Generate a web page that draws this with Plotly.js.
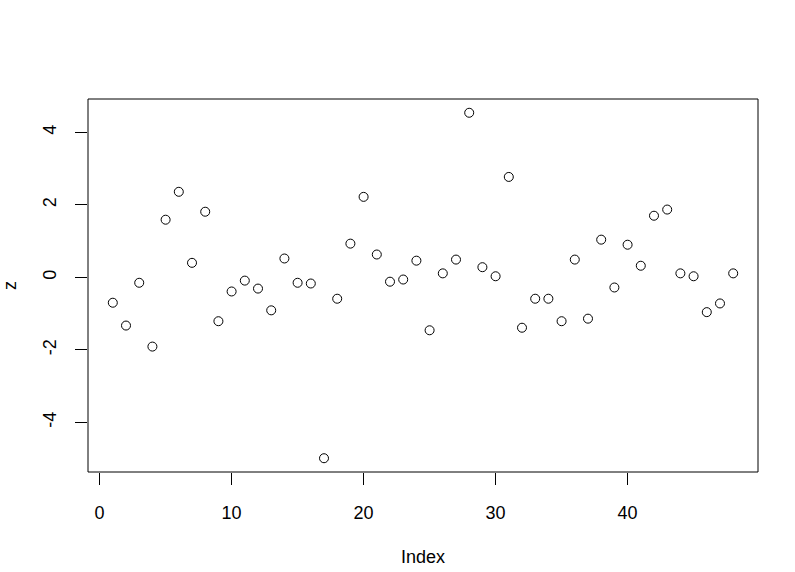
<!DOCTYPE html>
<html>
<head>
<meta charset="utf-8">
<script src="https://cdn.plot.ly/plotly-3.0.1.min.js"></script>
<style>html,body{margin:0;padding:0;background:#fff;}#chart{width:795px;height:572px;}</style>
</head>
<body>
<div id="chart"></div>
<script>
// Index values
const index = [1,2,3,4,5,6,7,8,9,10,11,12,13,14,15,16,17,18,19,20,21,22,23,24,
               25,26,27,28,29,30,31,32,33,34,35,36,37,38,39,40,41,42,43,44,45,46,47,48];
// z values
const z = [-0.70,-1.33,-0.15,-1.91,1.59,2.36,0.40,1.81,-1.21,-0.39,-0.09,-0.31,-0.91,0.52,-0.15,-0.17,
           -4.99,-0.59,0.93,2.22,0.63,-0.12,-0.06,0.46,-1.46,0.11,0.49,4.54,0.28,0.03,2.77,-1.39,
           -0.59,-0.59,-1.21,0.49,-1.14,1.04,-0.28,0.90,0.32,1.70,1.87,0.11,0.03,-0.96,-0.72,0.11];
const xTicks = [0,10,20,30,40];
const yTicks = [-4,-2,0,2,4];
const xLabel = "Index";
const yLabel = "z";

const font = {family: "Liberation Sans, Arial, sans-serif", size: 18, color: "#000"};

const trace = {
  x: index, y: z, type: "scatter", mode: "markers",
  marker: {symbol: "circle-open", size: 9, color: "#000", line: {width: 1, color: "#000"}},
  hoverinfo: "x+y"
};

const layout = {
  width: 795, height: 572,
  margin: {l: 88, r: 37, t: 99, b: 100},
  paper_bgcolor: "#fff", plot_bgcolor: "#fff",
  font: font,
  showlegend: false,
  xaxis: {
    range: [-0.88, 49.88], tickvals: xTicks, ticktext: xTicks.map(String),
    ticks: "outside", ticklen: 12, tickwidth: 1, tickcolor: "#000",
    showgrid: false, zeroline: false, showline: false,
    ticklabelstandoff: 12,
    tickfont: font,
    title: {text: xLabel, font: font, standoff: 28},
    automargin: false, fixedrange: true
  },
  yaxis: {
    range: [-5.37, 4.92], tickvals: yTicks, ticktext: yTicks.map(String),
    ticks: "outside", ticklen: 12, tickwidth: 1, tickcolor: "#000",
    showgrid: false, zeroline: false, showline: false,
    tickangle: -90, ticklabelstandoff: 12,
    tickfont: font,
    title: {text: yLabel, font: font, standoff: 30},
    automargin: false, fixedrange: true
  },
  shapes: [{
    type: "rect", xref: "paper", yref: "paper", x0: 0, x1: 1, y0: 0, y1: 1,
    line: {color: "#000", width: 1}, fillcolor: "rgba(0,0,0,0)"
  }]
};

Plotly.newPlot("chart", [trace], layout, {displayModeBar: false, staticPlot: true});
</script>
</body>
</html>
